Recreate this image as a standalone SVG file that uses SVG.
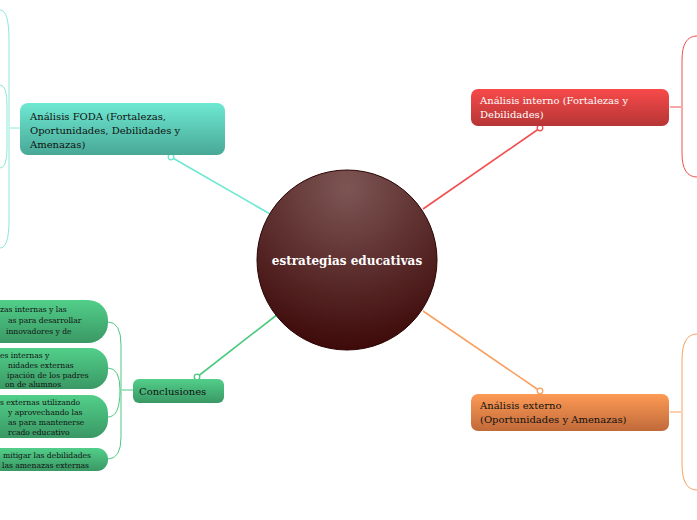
<svg xmlns="http://www.w3.org/2000/svg" width="697" height="520" viewBox="0 0 697 520">
<style>
text{font-family:"DejaVu Serif","Liberation Serif",serif;font-size:10px;fill:#111}
.sm{font-size:7.6px}
.w{fill:#fff}
.c{fill:none;stroke-width:1.6}
.b{fill:none;stroke-width:1}
.dot{fill:#fff;stroke-width:1.3}
</style>
<defs>
<radialGradient id="gc" cx="0.5" cy="0.1" r="0.95"><stop offset="0" stop-color="#7d5654"/><stop offset="1" stop-color="#3a0505"/></radialGradient>
<linearGradient id="gt" x1="0" y1="0" x2="0" y2="1"><stop offset="0" stop-color="#6ee8d2"/><stop offset="1" stop-color="#48a896"/></linearGradient>
<linearGradient id="gr" x1="0" y1="0" x2="0" y2="1"><stop offset="0" stop-color="#f84a4a"/><stop offset="1" stop-color="#b63535"/></linearGradient>
<linearGradient id="go" x1="0" y1="0" x2="0" y2="1"><stop offset="0" stop-color="#fd9a55"/><stop offset="1" stop-color="#c06a3a"/></linearGradient>
<linearGradient id="gg" x1="0" y1="0" x2="0" y2="1"><stop offset="0" stop-color="#52cf8a"/><stop offset="1" stop-color="#3a9864"/></linearGradient>
</defs>
<g id="connectors">
<line class="c" x1="171" y1="157" x2="270" y2="214" stroke="#6ee8d2"/>
<circle class="dot" cx="171" cy="157" r="2.8" stroke="#6ee8d2"/>
<line class="c" x1="540" y1="128" x2="423" y2="209" stroke="#f05050"/>
<circle class="dot" cx="540" cy="128" r="2.8" stroke="#f05050"/>
<line class="c" x1="540" y1="391" x2="423" y2="311" stroke="#f9a060"/>
<circle class="dot" cx="540" cy="391" r="2.8" stroke="#f9a060"/>
<line class="c" x1="197" y1="377" x2="278" y2="314" stroke="#4cc97f"/>
<circle class="dot" cx="197" cy="377" r="2.8" stroke="#4cc97f"/>
<g stroke="#8ee8d8" class="b">
<path d="M20 128 H10"/>
<path d="M0 10 Q9 10 9 40 V220 Q9 248 0 248"/>
<path d="M0 85 Q7 85 7 105 V148 Q7 168 0 168"/>
</g>
<g stroke="#f05050" class="b">
<path d="M670 107 H681"/>
<path d="M697 36 Q682 36 682 60 V153 Q682 177 697 177"/>
</g>
<g stroke="#f9a060" class="b">
<path d="M670 412 H681"/>
<path d="M697 334 Q682 334 682 360 V464 Q682 490 697 490"/>
</g>
<g stroke="#4cc97f" class="b">
<path d="M133 390 H122"/>
<path d="M108 322 Q121 322 121 345 V437 Q121 459 108 459"/>
<path d="M108 368 Q120 368 120 390 Q120 417 108 417"/>
</g>
</g>
<g id="center">
<circle cx="347" cy="260" r="90" fill="url(#gc)" stroke="#2a0303"/>
<text x="347" y="265" text-anchor="middle" class="w" style="font-size:12px;font-weight:bold">estrategias educativas</text>
</g>
<g id="foda">
<rect x="20" y="103" width="205" height="52" rx="8" fill="url(#gt)"/>
<text x="30" y="120">Análisis FODA (Fortalezas,</text>
<text x="30" y="134">Oportunidades, Debilidades y</text>
<text x="30" y="148">Amenazas)</text>
</g>
<g id="interno">
<rect x="471" y="89" width="198" height="37" rx="7" fill="url(#gr)"/>
<text x="480" y="104" class="w">Análisis interno (Fortalezas y</text>
<text x="480" y="118" class="w">Debilidades)</text>
</g>
<g id="externo">
<rect x="471" y="394" width="198" height="37" rx="7" fill="url(#go)"/>
<text x="480" y="409">Análisis externo</text>
<text x="480" y="423">(Oportunidades y Amenazas)</text>
</g>
<g id="conclusiones">
<rect x="133" y="379" width="91" height="24" rx="6" fill="url(#gg)"/>
<text x="139" y="395">Conclusiones</text>
</g>
<g id="c1">
<rect x="-30" y="300" width="138" height="43" rx="20" fill="url(#gg)"/>
<text class="sm" x="0" y="312">zas internas y las</text>
<text class="sm" x="8" y="323">as para desarrollar</text>
<text class="sm" x="6" y="334">innovadores y de</text>
</g>
<g id="c2">
<rect x="-30" y="348" width="138" height="41" rx="18" fill="url(#gg)"/>
<text class="sm" x="0" y="358">es internas y</text>
<text class="sm" x="8" y="368">nidades externas</text>
<text class="sm" x="7" y="378">ipación de los padres</text>
<text class="sm" x="5" y="387">on de alumnos</text>
</g>
<g id="c3">
<rect x="-30" y="395" width="138" height="43" rx="18" fill="url(#gg)"/>
<text class="sm" x="0" y="405">s externas utilizando</text>
<text class="sm" x="8" y="415">y aprovechando las</text>
<text class="sm" x="8" y="425">as para mantenerse</text>
<text class="sm" x="8" y="435">rcado educativo</text>
</g>
<g id="c4">
<rect x="-30" y="448" width="138" height="23" rx="11" fill="url(#gg)"/>
<text class="sm" x="3" y="458">mitigar las debilidades</text>
<text class="sm" x="2" y="468">las amenazas externas</text>
</g>
</svg>
